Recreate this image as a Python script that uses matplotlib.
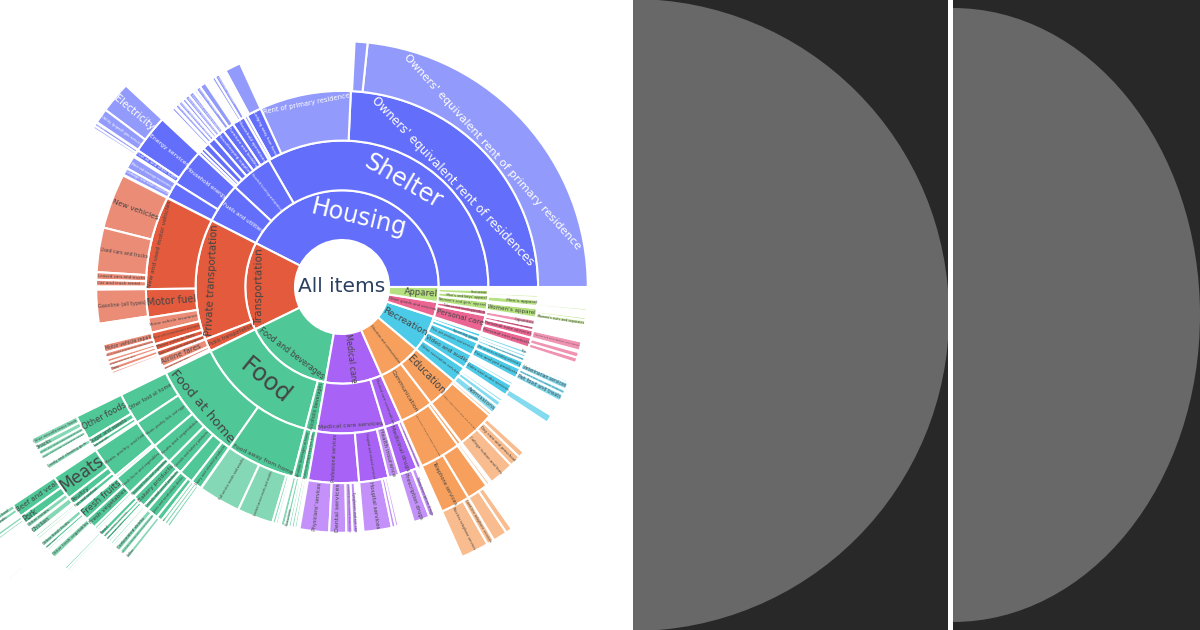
import numpy as np
import matplotlib
matplotlib.use('Agg')
import matplotlib.pyplot as plt
from matplotlib.patches import Ellipse, Rectangle
from matplotlib.textpath import TextPath
from matplotlib.font_manager import FontProperties

# CPI weights (% of all items): (label, parent, value)
housing = [
    ("Housing", "All items", 42.50),
    ("Shelter", "Housing", 33.33),
    ("Household furnishings and operations", "Housing", 4.72),
    ("Fuels and utilities", "Housing", 4.44),
    ("Owners' equivalent rent of residences", "Shelter", 24.28),
    ("Rent of primary residence", "Shelter", 7.53),
    ("Lodging away from home", "Shelter", 1.25),
    ("Tenants' and household insurance", "Shelter", 0.25),
    ("Owners' equivalent rent of primary residence", "Owners' equivalent rent of residences", 23.33),
    ("Unsampled owners' equivalent rent of secondary residences", "Owners' equivalent rent of residences", 0.85),
    ("Other lodging away from home including hotels and motels", "Lodging away from home", 1.05),
    ("Housing at school, excluding board", "Lodging away from home", 0.12),
    ("Household operations", "Household furnishings and operations", 1.06),
    ("Furniture and bedding", "Household furnishings and operations", 0.97),
    ("Housekeeping supplies", "Household furnishings and operations", 0.95),
    ("Tools, hardware, outdoor equipment and supplies", "Household furnishings and operations", 0.64),
    ("Other household equipment and furnishings", "Household furnishings and operations", 0.54),
    ("Window and floor coverings and other linens", "Household furnishings and operations", 0.30),
    ("Appliances", "Household furnishings and operations", 0.24),
    ("Domestic services", "Household operations", 0.33),
    ("Gardening and lawncare services", "Household operations", 0.22),
    ("Moving, storage, freight expense", "Household operations", 0.12),
    ("Repair of household items", "Household operations", 0.06),
    ("Living room, kitchen, and dining room furniture", "Furniture and bedding", 0.42),
    ("Bedroom furniture", "Furniture and bedding", 0.33),
    ("Other furniture", "Furniture and bedding", 0.15),
    ("Household cleaning products", "Housekeeping supplies", 0.36),
    ("Miscellaneous household products", "Housekeeping supplies", 0.33),
    ("Household paper products", "Housekeeping supplies", 0.22),
    ("Outdoor equipment and supplies", "Tools, hardware, outdoor equipment and supplies", 0.30),
    ("Tools, hardware and supplies", "Tools, hardware, outdoor equipment and supplies", 0.26),
    ("Clocks, lamps, and decorator items", "Other household equipment and furnishings", 0.22),
    ("Nonelectric cookware and tableware", "Other household equipment and furnishings", 0.14),
    ("Indoor plants and flowers", "Other household equipment and furnishings", 0.10),
    ("Other linens", "Window and floor coverings and other linens", 0.12),
    ("Floor coverings", "Window and floor coverings and other linens", 0.08),
    ("Window coverings", "Window and floor coverings and other linens", 0.06),
    ("Major appliances", "Appliances", 0.12),
    ("Other appliances", "Appliances", 0.10),
    ("Household energy", "Fuels and utilities", 3.06),
    ("Water and sewer and trash collection services", "Fuels and utilities", 1.36),
    ("Energy services", "Household energy", 2.56),
    ("Fuel oil and other fuels", "Household energy", 0.40),
    ("Water and sewerage maintenance", "Water and sewer and trash collection services", 0.86),
    ("Garbage and trash collection", "Water and sewer and trash collection services", 0.47),
    ("Electricity", "Energy services", 1.72),
    ("Utility (piped) gas service", "Energy services", 0.80),
    ("Fuel oil", "Fuel oil and other fuels", 0.20),
    ("Propane, kerosene, and firewood", "Fuel oil and other fuels", 0.15),
]

transportation = [
    ("Transportation", "All items", 14.72),
    ("Private transportation", "Transportation", 13.33),
    ("Public transportation", "Transportation", 1.36),
    ("New and used motor vehicles", "Private transportation", 7.67),
    ("Motor fuel", "Private transportation", 2.33),
    ("Motor vehicle insurance", "Private transportation", 1.25),
    ("Motor vehicle maintenance and repair", "Private transportation", 0.97),
    ("Motor vehicle fees", "Private transportation", 0.56),
    ("Motor vehicle parts and equipment", "Private transportation", 0.50),
    ("New vehicles", "New and used motor vehicles", 3.61),
    ("Used cars and trucks", "New and used motor vehicles", 2.92),
    ("Leased cars and trucks", "New and used motor vehicles", 0.50),
    ("Car and truck rental", "New and used motor vehicles", 0.42),
    ("Gasoline (all types)", "Motor fuel", 2.22),
    ("Other motor fuels", "Motor fuel", 0.08),
    ("Motor vehicle repair", "Motor vehicle maintenance and repair", 0.55),
    ("Motor vehicle maintenance and servicing", "Motor vehicle maintenance and repair", 0.35),
    ("Motor vehicle body work", "Motor vehicle maintenance and repair", 0.06),
    ("State motor vehicle registration and license fees", "Motor vehicle fees", 0.25),
    ("Parking and other fees", "Motor vehicle fees", 0.25),
    ("Tires", "Motor vehicle parts and equipment", 0.30),
    ("Vehicle accessories other than tires", "Motor vehicle parts and equipment", 0.18),
    ("Airline fares", "Public transportation", 0.85),
    ("Intracity transportation", "Public transportation", 0.32),
    ("Other intercity transportation", "Public transportation", 0.16),
]

food = [
    ("Food and beverages", "All items", 15.00),
    ("Food", "Food and beverages", 13.75),
    ("Alcoholic beverages", "Food and beverages", 1.25),
    ("Food at home", "Food", 8.06),
    ("Food away from home", "Food", 5.69),
    ("Alcoholic beverages at home", "Alcoholic beverages", 0.72),
    ("Alcoholic beverages away from home", "Alcoholic beverages", 0.53),
    ("Other food at home", "Food at home", 2.08),
    ("Meats, poultry, fish, and eggs", "Food at home", 1.89),
    ("Fruits and vegetables", "Food at home", 1.39),
    ("Cereals and bakery products", "Food at home", 1.00),
    ("Nonalcoholic beverages and beverage materials", "Food at home", 0.94),
    ("Dairy and related products", "Food at home", 0.72),
    ("Full service meals and snacks", "Food away from home", 2.78),
    ("Limited service meals and snacks", "Food away from home", 2.36),
    ("Other food away from home", "Food away from home", 0.22),
    ("Food at employee sites and schools", "Food away from home", 0.17),
    ("Food from vending machines and mobile vendors", "Food away from home", 0.14),
    ("Beer, ale, and other malt beverages at home", "Alcoholic beverages at home", 0.28),
    ("Wine at home", "Alcoholic beverages at home", 0.25),
    ("Distilled spirits at home", "Alcoholic beverages at home", 0.17),
    ("Beer, ale, and other malt beverages away from home", "Alcoholic beverages away from home", 0.20),
    ("Distilled spirits away from home", "Alcoholic beverages away from home", 0.18),
    ("Wine away from home", "Alcoholic beverages away from home", 0.14),
    ("Distilled spirits, excluding whiskey, at home", "Distilled spirits at home", 0.11),
    ("Whiskey at home", "Distilled spirits at home", 0.06),
    ("Other foods", "Other food at home", 1.39),
    ("Sugar and sweets", "Other food at home", 0.36),
    ("Fats and oils", "Other food at home", 0.22),
    ("Meats, poultry, and fish", "Meats, poultry, fish, and eggs", 1.75),
    ("Eggs", "Meats, poultry, fish, and eggs", 0.14),
    ("Fresh fruits and vegetables", "Fruits and vegetables", 1.06),
    ("Processed fruits and vegetables", "Fruits and vegetables", 0.31),
    ("Bakery products", "Cereals and bakery products", 0.70),
    ("Cereals and cereal products", "Cereals and bakery products", 0.28),
    ("Juices and nonalcoholic drinks", "Nonalcoholic beverages and beverage materials", 0.63),
    ("Beverage materials including coffee and tea", "Nonalcoholic beverages and beverage materials", 0.30),
    ("Milk", "Dairy and related products", 0.19),
    ("Cheese and cheese products", "Dairy and related products", 0.19),
    ("Other dairy and related products", "Dairy and related products", 0.19),
    ("Ice cream and related products", "Dairy and related products", 0.11),
    ("Other miscellaneous foods", "Other foods", 0.36),
    ("Snacks", "Other foods", 0.28),
    ("Frozen and freeze dried prepared foods", "Other foods", 0.25),
    ("Spices, seasonings, condiments, sauces", "Other foods", 0.22),
    ("Baby food and formula", "Other foods", 0.06),
    ("Candy and chewing gum", "Sugar and sweets", 0.25),
    ("Sugar and sugar substitutes", "Sugar and sweets", 0.05),
    ("Other sweets", "Sugar and sweets", 0.05),
    ("Other fats and oils including peanut butter", "Fats and oils", 0.09),
    ("Salad dressing", "Fats and oils", 0.08),
    ("Butter and margarine", "Fats and oils", 0.05),
    ("Meats", "Meats, poultry, and fish", 1.17),
    ("Poultry", "Meats, poultry, and fish", 0.36),
    ("Fish and seafood", "Meats, poultry, and fish", 0.22),
    ("Fresh fruits", "Fresh fruits and vegetables", 0.56),
    ("Fresh vegetables", "Fresh fruits and vegetables", 0.50),
    ("Canned fruits and vegetables", "Processed fruits and vegetables", 0.14),
    ("Frozen fruits and vegetables", "Processed fruits and vegetables", 0.11),
    ("Other processed fruits and vegetables including dried", "Processed fruits and vegetables", 0.06),
    ("Bread", "Bakery products", 0.22),
    ("Cakes, cupcakes, and cookies", "Bakery products", 0.17),
    ("Other bakery products", "Bakery products", 0.17),
    ("Fresh biscuits, rolls, muffins", "Bakery products", 0.11),
    ("Breakfast cereal", "Cereals and cereal products", 0.13),
    ("Rice, pasta, cornmeal", "Cereals and cereal products", 0.11),
    ("Flour and prepared flour mixes", "Cereals and cereal products", 0.04),
    ("Carbonated drinks", "Juices and nonalcoholic drinks", 0.28),
    ("Nonfrozen noncarbonated juices and drinks", "Juices and nonalcoholic drinks", 0.25),
    ("Frozen noncarbonated juices and drinks", "Juices and nonalcoholic drinks", 0.03),
    ("Coffee", "Beverage materials including coffee and tea", 0.20),
    ("Other beverage materials including tea", "Beverage materials including coffee and tea", 0.09),
    ("Beef and veal", "Meats", 0.56),
    ("Pork", "Meats", 0.36),
    ("Other meats", "Meats", 0.22),
    ("Chicken", "Poultry", 0.28),
    ("Other uncooked poultry including turkey", "Poultry", 0.07),
    ("Fresh fish and seafood", "Fish and seafood", 0.11),
    ("Processed fish and seafood", "Fish and seafood", 0.10),
    ("Other fresh fruits", "Fresh fruits", 0.22),
    ("Citrus fruits", "Fresh fruits", 0.14),
    ("Apples", "Fresh fruits", 0.10),
    ("Bananas", "Fresh fruits", 0.08),
    ("Other fresh vegetables", "Fresh vegetables", 0.28),
    ("Potatoes", "Fresh vegetables", 0.08),
    ("Lettuce", "Fresh vegetables", 0.07),
    ("Tomatoes", "Fresh vegetables", 0.07),
    ("Bread other than white", "Bread", 0.12),
    ("White bread", "Bread", 0.10),
    ("Cookies", "Cakes, cupcakes, and cookies", 0.09),
    ("Cakes and cupcakes", "Cakes, cupcakes, and cookies", 0.07),
    ("Crackers, bread, and cracker products", "Other bakery products", 0.08),
    ("Frozen and refrigerated bakery products, pies, tarts, turnovers", "Other bakery products", 0.07),
    ("Uncooked ground beef", "Beef and veal", 0.19),
    ("Uncooked beef steaks", "Beef and veal", 0.17),
    ("Uncooked beef roasts", "Beef and veal", 0.08),
    ("Uncooked other beef and veal", "Beef and veal", 0.08),
    ("Bacon, breakfast sausage, and related products", "Pork", 0.14),
    ("Other pork including roasts, steaks, and ribs", "Pork", 0.11),
    ("Ham", "Pork", 0.06),
    ("Pork chops", "Pork", 0.05),
    ("Oranges, including tangerines", "Citrus fruits", 0.08),
    ("Other citrus fruits", "Citrus fruits", 0.05),
]

medical = [
    ("Medical care", "All items", 9.44),
    ("Medical care services", "Medical care", 7.50),
    ("Medical care commodities", "Medical care", 1.94),
    ("Professional services", "Medical care services", 4.17),
    ("Hospital and related services", "Medical care services", 2.42),
    ("Health insurance", "Medical care services", 0.90),
    ("Medicinal drugs", "Medical care commodities", 1.53),
    ("Medical equipment and supplies", "Medical care commodities", 0.36),
    ("Physicians' services", "Professional services", 1.94),
    ("Dental services", "Professional services", 1.11),
    ("Services by other medical professionals", "Professional services", 0.42),
    ("Eyeglasses and eye care", "Professional services", 0.33),
    ("Hospital services", "Hospital and related services", 1.86),
    ("Nursing homes and adult day services", "Hospital and related services", 0.25),
    ("Care of invalids and elderly at home", "Hospital and related services", 0.19),
    ("Prescription drugs", "Medicinal drugs", 1.06),
    ("Nonprescription drugs", "Medicinal drugs", 0.36),
]

education = [
    ("Education and communication", "All items", 7.22),
    ("Communication", "Education and communication", 3.75),
    ("Education", "Education and communication", 3.47),
    ("Information and information processing", "Communication", 3.40),
    ("Postage and delivery services", "Communication", 0.30),
    ("Tuition, other school fees, and childcare", "Education", 3.17),
    ("Educational books and supplies", "Education", 0.25),
    ("Telephone services", "Information and information processing", 1.94),
    ("Information technology, hardware and services", "Information and information processing", 1.40),
    ("Postage", "Postage and delivery services", 0.20),
    ("Delivery services", "Postage and delivery services", 0.08),
    ("College tuition and fees", "Tuition, other school fees, and childcare", 1.67),
    ("Day care and preschool", "Tuition, other school fees, and childcare", 0.75),
    ("Elementary and high school tuition and fees", "Tuition, other school fees, and childcare", 0.42),
    ("Technical and business school tuition and fees", "Tuition, other school fees, and childcare", 0.11),
    ("Wireless telephone services", "Telephone services", 1.53),
    ("Land-line telephone services", "Telephone services", 0.39),
    ("Internet services and electronic information providers", "Information technology, hardware and services", 0.78),
    ("Computers, peripherals, and smart home assistants", "Information technology, hardware and services", 0.36),
    ("Telephone hardware, calculators, and other consumer information items", "Information technology, hardware and services", 0.11),
    ("Computer software and accessories", "Information technology, hardware and services", 0.10),
]

recreation = [
    ("Recreation", "All items", 6.11),
    ("Other recreation services", "Recreation", 1.81),
    ("Video and audio", "Recreation", 1.61),
    ("Pets, pet products and services", "Recreation", 1.50),
    ("Sporting goods", "Recreation", 0.61),
    ("Other recreational goods", "Recreation", 0.42),
    ("Recreational reading materials", "Recreation", 0.11),
    ("Photography", "Recreation", 0.05),
    ("Admissions", "Other recreation services", 0.69),
    ("Club membership and participant sports fees", "Other recreation services", 0.45),
    ("Fees for lessons or instructions", "Other recreation services", 0.25),
    ("Video and audio services", "Video and audio", 0.95),
    ("Televisions", "Video and audio", 0.25),
    ("Audio equipment", "Video and audio", 0.15),
    ("Other video equipment", "Video and audio", 0.10),
    ("Pets and pet products", "Pets, pet products and services", 0.85),
    ("Pet services including veterinary", "Pets, pet products and services", 0.62),
    ("Sports vehicles including bicycles", "Sporting goods", 0.33),
    ("Sports equipment", "Sporting goods", 0.25),
    ("Toys", "Other recreational goods", 0.30),
    ("Music instruments and accessories", "Other recreational goods", 0.06),
    ("Cable, satellite, and live streaming television service", "Video and audio services", 0.55),
    ("Video discs and other media", "Video and audio services", 0.05),
    ("Pet food and treats", "Pets and pet products", 0.50),
    ("Purchase of pets, pet supplies, accessories", "Pets and pet products", 0.30),
    ("Veterinarian services", "Pet services including veterinary", 0.45),
    ("Pet services", "Pet services including veterinary", 0.15),
]

other_goods = [
    ("Other goods and services", "All items", 2.50),
    ("Personal care", "Other goods and services", 1.89),
    ("Tobacco and smoking products", "Other goods and services", 0.58),
    ("Personal care products", "Personal care", 0.83),
    ("Personal care services", "Personal care", 0.62),
    ("Miscellaneous personal services", "Personal care", 0.33),
    ("Miscellaneous personal goods", "Personal care", 0.08),
    ("Cigarettes", "Tobacco and smoking products", 0.44),
    ("Tobacco products other than cigarettes", "Tobacco and smoking products", 0.12),
    ("Hair, dental, shaving, and miscellaneous personal care products", "Personal care products", 0.36),
    ("Cosmetics, perfume, bath, nail preparations and implements", "Personal care products", 0.36),
    ("Haircuts and other personal care services", "Personal care services", 0.60),
    ("Legal services", "Miscellaneous personal services", 0.08),
    ("Laundry and dry cleaning services", "Miscellaneous personal services", 0.08),
    ("Financial services", "Miscellaneous personal services", 0.08),
    ("Funeral expenses", "Miscellaneous personal services", 0.07),
]

apparel = [
    ("Apparel", "All items", 2.50),
    ("Women's and girls' apparel", "Apparel", 0.95),
    ("Men's and boys' apparel", "Apparel", 0.67),
    ("Footwear", "Apparel", 0.56),
    ("Jewelry and watches", "Apparel", 0.22),
    ("Infants' and toddlers' apparel", "Apparel", 0.10),
    ("Women's apparel", "Women's and girls' apparel", 0.78),
    ("Girls' apparel", "Women's and girls' apparel", 0.16),
    ("Men's apparel", "Men's and boys' apparel", 0.53),
    ("Boys' apparel", "Men's and boys' apparel", 0.13),
    ("Women's footwear", "Footwear", 0.24),
    ("Men's footwear", "Footwear", 0.18),
    ("Boys' and girls' footwear", "Footwear", 0.12),
    ("Jewelry", "Jewelry and watches", 0.16),
    ("Watches", "Jewelry and watches", 0.05),
    ("Women's suits and separates", "Women's apparel", 0.34),
    ("Women's underwear, nightwear, swimwear, and accessories", "Women's apparel", 0.20),
    ("Women's dresses", "Women's apparel", 0.12),
    ("Women's outerwear", "Women's apparel", 0.08),
    ("Men's shirts and sweaters", "Men's apparel", 0.18),
    ("Men's pants and shorts", "Men's apparel", 0.14),
    ("Men's underwear, nightwear, swimwear, and accessories", "Men's apparel", 0.13),
    ("Men's suits, sport coats, and outerwear", "Men's apparel", 0.07),
]

branches = [housing, transportation, food, medical, education, recreation, other_goods, apparel]
branch_colors = ['#636efa', '#e35a3c', '#4fc796', '#a962f6', '#f7a05d', '#4ccbe8', '#ea6591', '#b5e27f']
label_colors = ['white', '#444444', '#444444', '#444444', '#444444', '#444444', '#444444', '#444444']

HOLE = 47.0
RING = 49.7
MAX_PX = 24.0
RADIAL_BIAS = 1.2
CX, CY = 342, 630 - 287
R_AX = 470.0

rows = [r for b in branches for r in b]
children = {}
value = {}
for label, parent, v in rows:
    children.setdefault(parent, []).append(label)
    value[label] = v
total = sum(value[c] for c in children["All items"])

segments = []


def place(node, start, depth, color, tcol):
    t = start
    for child in children.get(node, []):
        span = value[child] / total * 2 * np.pi
        segments.append((child, depth, t, span, color, tcol, child not in children))
        place(child, t, depth + 1, color, tcol)
        t += span


t0 = 0.0
for top, col, tcol in zip(children["All items"], branch_colors, label_colors):
    span = value[top] / total * 2 * np.pi
    segments.append((top, 1, t0, span, col, tcol, top not in children))
    place(top, t0, 2, col, tcol)
    t0 += span

fp = FontProperties(family='DejaVu Sans')


def fit(label, r_in, r_out, span, radial):
    """largest font (px) whose box fits the annular sector, and radius of its centre"""
    wem = TextPath((0, 0), label, size=1, prop=fp).get_extents().width
    rm = (r_in + r_out) / 2
    half = span / 2
    tan_h = np.tan(half) if half < np.pi / 2 else np.inf

    def rc_range(fs):
        w = wem * fs + 2
        h = 1.0 * fs + 1
        along, across = (w, h) if radial else (h, w)
        lo_r = max(r_in + along / 2, across / (2 * tan_h) + along / 2)
        sq = r_out ** 2 - across ** 2 / 4
        if sq <= 0:
            return None
        hi_r = np.sqrt(sq) - along / 2
        return (lo_r, hi_r) if lo_r <= hi_r else None

    lo, hi = 0.0, MAX_PX
    for _ in range(22):
        fs = (lo + hi) / 2
        if rc_range(fs):
            lo = fs
        else:
            hi = fs
    rng = rc_range(lo) if lo > 0 else None
    rc = rm if rng is None else min(max(rm, rng[0]), rng[1])
    return lo, rc


fig = plt.figure(figsize=(12, 6.3), dpi=100, facecolor='white')
ax = fig.add_axes([(CX - R_AX) / 1200, (CY - R_AX) / 630, 2 * R_AX / 1200, 2 * R_AX / 630],
                  projection='polar')
ax.set_ylim(0, R_AX)
ax.set_axis_off()

for label, depth, start, span, col, tcol, leaf in segments:
    r_in = HOLE + RING * (depth - 1)
    rgb = np.array(matplotlib.colors.to_rgb(col))
    face = rgb * 0.7 + 0.3 if leaf else rgb
    ax.bar(start, RING, width=span, bottom=r_in, align='edge',
           color=face, edgecolor='white', linewidth=1.5)

for label, depth, start, span, col, tcol, leaf in segments:
    r_in = HOLE + RING * (depth - 1)
    r_out = r_in + RING
    fs_t, rc_t = fit(label, r_in, r_out, span, False)
    fs_r, rc_r = fit(label, r_in, r_out, span, True)
    radial = fs_r * RADIAL_BIAS > fs_t and fs_t < MAX_PX - 0.1
    fs, rc = (fs_r, rc_r) if radial else (fs_t, rc_t)
    if fs < 2.2:
        continue
    mid = start + span / 2
    rot = np.degrees(mid) if radial else np.degrees(mid) - 90
    while rot > 90:
        rot -= 180
    while rot <= -90:
        rot += 180
    ax.text(mid, rc, label, rotation=rot, rotation_mode='anchor',
            ha='center', va='center', fontsize=fs * 0.72, color=tcol)

ax.text(0, 0, "All items", ha='center', va='center', fontsize=14.5, color='#2a3f5f')

# right-hand dark panel
ax2 = fig.add_axes([633 / 1200, 0, 567 / 1200, 1])
ax2.set_xlim(633, 1200)
ax2.set_ylim(0, 630)
ax2.set_facecolor('#282828')
ax2.set_xticks([])
ax2.set_yticks([])
for s in ax2.spines.values():
    s.set_visible(False)
ax2.add_patch(Ellipse((633, 315), 632, 632, facecolor='#686868', edgecolor='none'))
disc2 = Ellipse((953, 315), 494, 614, facecolor='#686868', edgecolor='none')
ax2.add_patch(disc2)
disc2.set_clip_path(Rectangle((953, 0), 247, 630, transform=ax2.transData))
ax2.add_patch(Rectangle((948, 0), 5, 630, facecolor='white', edgecolor='none'))

fig.savefig('out.png', dpi=100, facecolor='white')
